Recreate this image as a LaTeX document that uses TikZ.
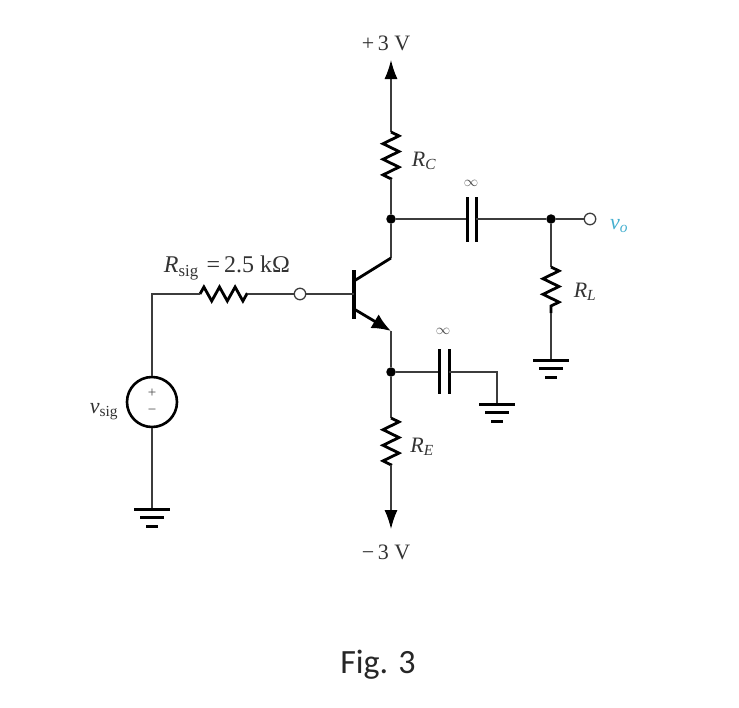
\documentclass[tikz,border=0pt]{standalone}
\usepackage{fontspec}
\setmainfont{Liberation Serif}
\newfontfamily\figfont{Carlito}
\usepackage{xcolor}
\usetikzlibrary{arrows}
\usetikzlibrary{arrows.meta}
\usetikzlibrary{decorations.pathmorphing}
\definecolor{wirecol}{HTML}{3C3C3C}
\definecolor{outcol}{HTML}{45AFCF}
\tikzset{
  wire/.style={color=wirecol,line width=1.3pt},
  bjt/.style={color=black,line width=2.8pt},
  rail/.style={wire,-{Latex[length=19pt,width=13pt,color=black]}},
  emit/.style={bjt,-{Latex[length=19pt,width=16pt]}},
  resistor/.style={color=black,line width=2.8pt,line join=miter,decorate,
    decoration={zigzag,amplitude=8pt,segment length=15.6pt,pre length=0pt,post length=0pt}},
  plate/.style={color=black,line width=3pt},
  dot/.style={circle,fill=black,inner sep=0pt,minimum size=9.5pt},
  term/.style={circle,draw=wirecol,fill=white,line width=1.3pt,inner sep=0pt,minimum size=11.5pt},
  lab/.style={color=black!80,font=\fontsize{22}{24}\selectfont,inner sep=0pt},
  inf/.style={color=black!70,font=\fontsize{14}{14}\selectfont,inner sep=0pt},
  sgn/.style={color=black!70,font=\fontsize{15}{15}\selectfont,inner sep=0pt},
  gnd/.pic={
    \draw[plate] (-18,0) -- (18,0);
    \draw[plate] (-12,8.5) -- (12,8.5);
    \draw[plate] (-6,17) -- (6,17);
  }
}
\begin{document}
\begin{tikzpicture}[x=1pt,y=-1pt]
\useasboundingbox (0,0) rectangle (739,707);
% supply rails and collector branch
\coordinate (vcc) at (391,60);
\coordinate (rc1) at (391,132);
\coordinate (rc2) at (391,179);
\coordinate (col) at (391,258);
\node[dot] (jc) at (391,219) {};
\node[dot] (jo) at (551,219) {};
\node[term] (out) at (590,219) {};
\draw[rail] (rc1) -- (vcc);
\draw[resistor] (rc1) -- (rc2);
\draw[wire] (rc2) -- (jc);
\draw[wire] (jc) -- (col);
% output capacitor
\coordinate (c1a) at (467,219);
\coordinate (c1b) at (476,219);
\draw[wire] (jc) -- (c1a);
\draw[plate] (467,197) -- (467,242);
\draw[plate] (476,197) -- (476,242);
\draw[wire] (c1b) -- (jo);
\draw[wire] (jo) -- (out);
% load
\coordinate (rl1) at (551,267);
\coordinate (rl2) at (551,313);
\coordinate (gl) at (551,360);
\draw[wire] (jo) -- (rl1);
\draw[resistor] (rl1) -- (rl2);
\draw[wire] (rl2) -- (gl);
\pic at (gl) {gnd};
% transistor
\coordinate (base) at (354,294);
\coordinate (bc) at (354,281);
\coordinate (be) at (354,309);
\coordinate (em) at (391,331);
\draw[bjt,line width=3.2pt] (354,270) -- (354,319);
\draw[bjt] (bc) -- (col);
\draw[emit] (be) -- (em);
% emitter branch
\coordinate (re1) at (391,418);
\coordinate (re2) at (391,465);
\coordinate (vee) at (391,529);
\node[dot] (je) at (391,372) {};
\draw[wire] (em) -- (je);
\draw[wire] (je) -- (re1);
\draw[resistor] (re1) -- (re2);
\draw[rail] (re2) -- (vee);
% bypass capacitor
\coordinate (c2a) at (439,372);
\coordinate (c2b) at (449,372);
\coordinate (ge) at (497,404);
\draw[wire] (je) -- (c2a);
\draw[plate] (439,349) -- (439,394);
\draw[plate] (449,349) -- (449,394);
\draw[wire] (c2b) -| (ge);
\pic at (ge) {gnd};
% input side
\node[term] (in) at (300,294) {};
\node[circle,draw=black,fill=white,line width=2.6pt,inner sep=0pt,minimum size=50pt] (src) at (152,402) {};
\coordinate (rs1) at (200,294);
\coordinate (rs2) at (247,294);
\coordinate (gs) at (152,509);
\draw[wire] (in) -- (base);
\draw[wire] (rs2) -- (in);
\draw[resistor,decoration={zigzag,amplitude=7pt,segment length=15.6pt}] (rs1) -- (rs2);
\draw[wire] (src) |- (rs1);
\draw[wire] (src) -- (gs);
\pic at (gs) {gnd};
% labels
\node[lab] (plus) at (386,43) {+\,3 V};
\node[lab] (minus) at (386,552) {−\,3 V};
\node[lab] (lrc) at (424,161) {\textit{R}\textsubscript{\textit{C}}};
\node[lab] (lre) at (422,447) {\textit{R}\textsubscript{\textit{E}}};
\node[lab] (lrl) at (585,292) {\textit{R}\textsubscript{\textit{L}}};
\node[lab,font=\fontsize{24}{26}\selectfont] (lrs) at (227,268) {\textit{R}\textsubscript{sig}\,\,=\,2.5 kΩ};
\node[lab] (lvs) at (104,412) {\textit{v}\textsubscript{sig}};
\node[lab,color=outcol] (lvo) at (619,226) {\textit{v}\textsubscript{\textit{o}}};
\node[inf] (i1) at (471,183) {$\infty$};
\node[inf] (i2) at (443,331) {$\infty$};
\node[sgn] (sp) at (152,393) {+};
\node[sgn] (sm) at (152,412) {−};
\node[color=black!85,font=\figfont\fontsize{34}{36}\selectfont,inner sep=0pt] (fig) at (378,665) {Fig. 3};
\end{tikzpicture}
\end{document}
